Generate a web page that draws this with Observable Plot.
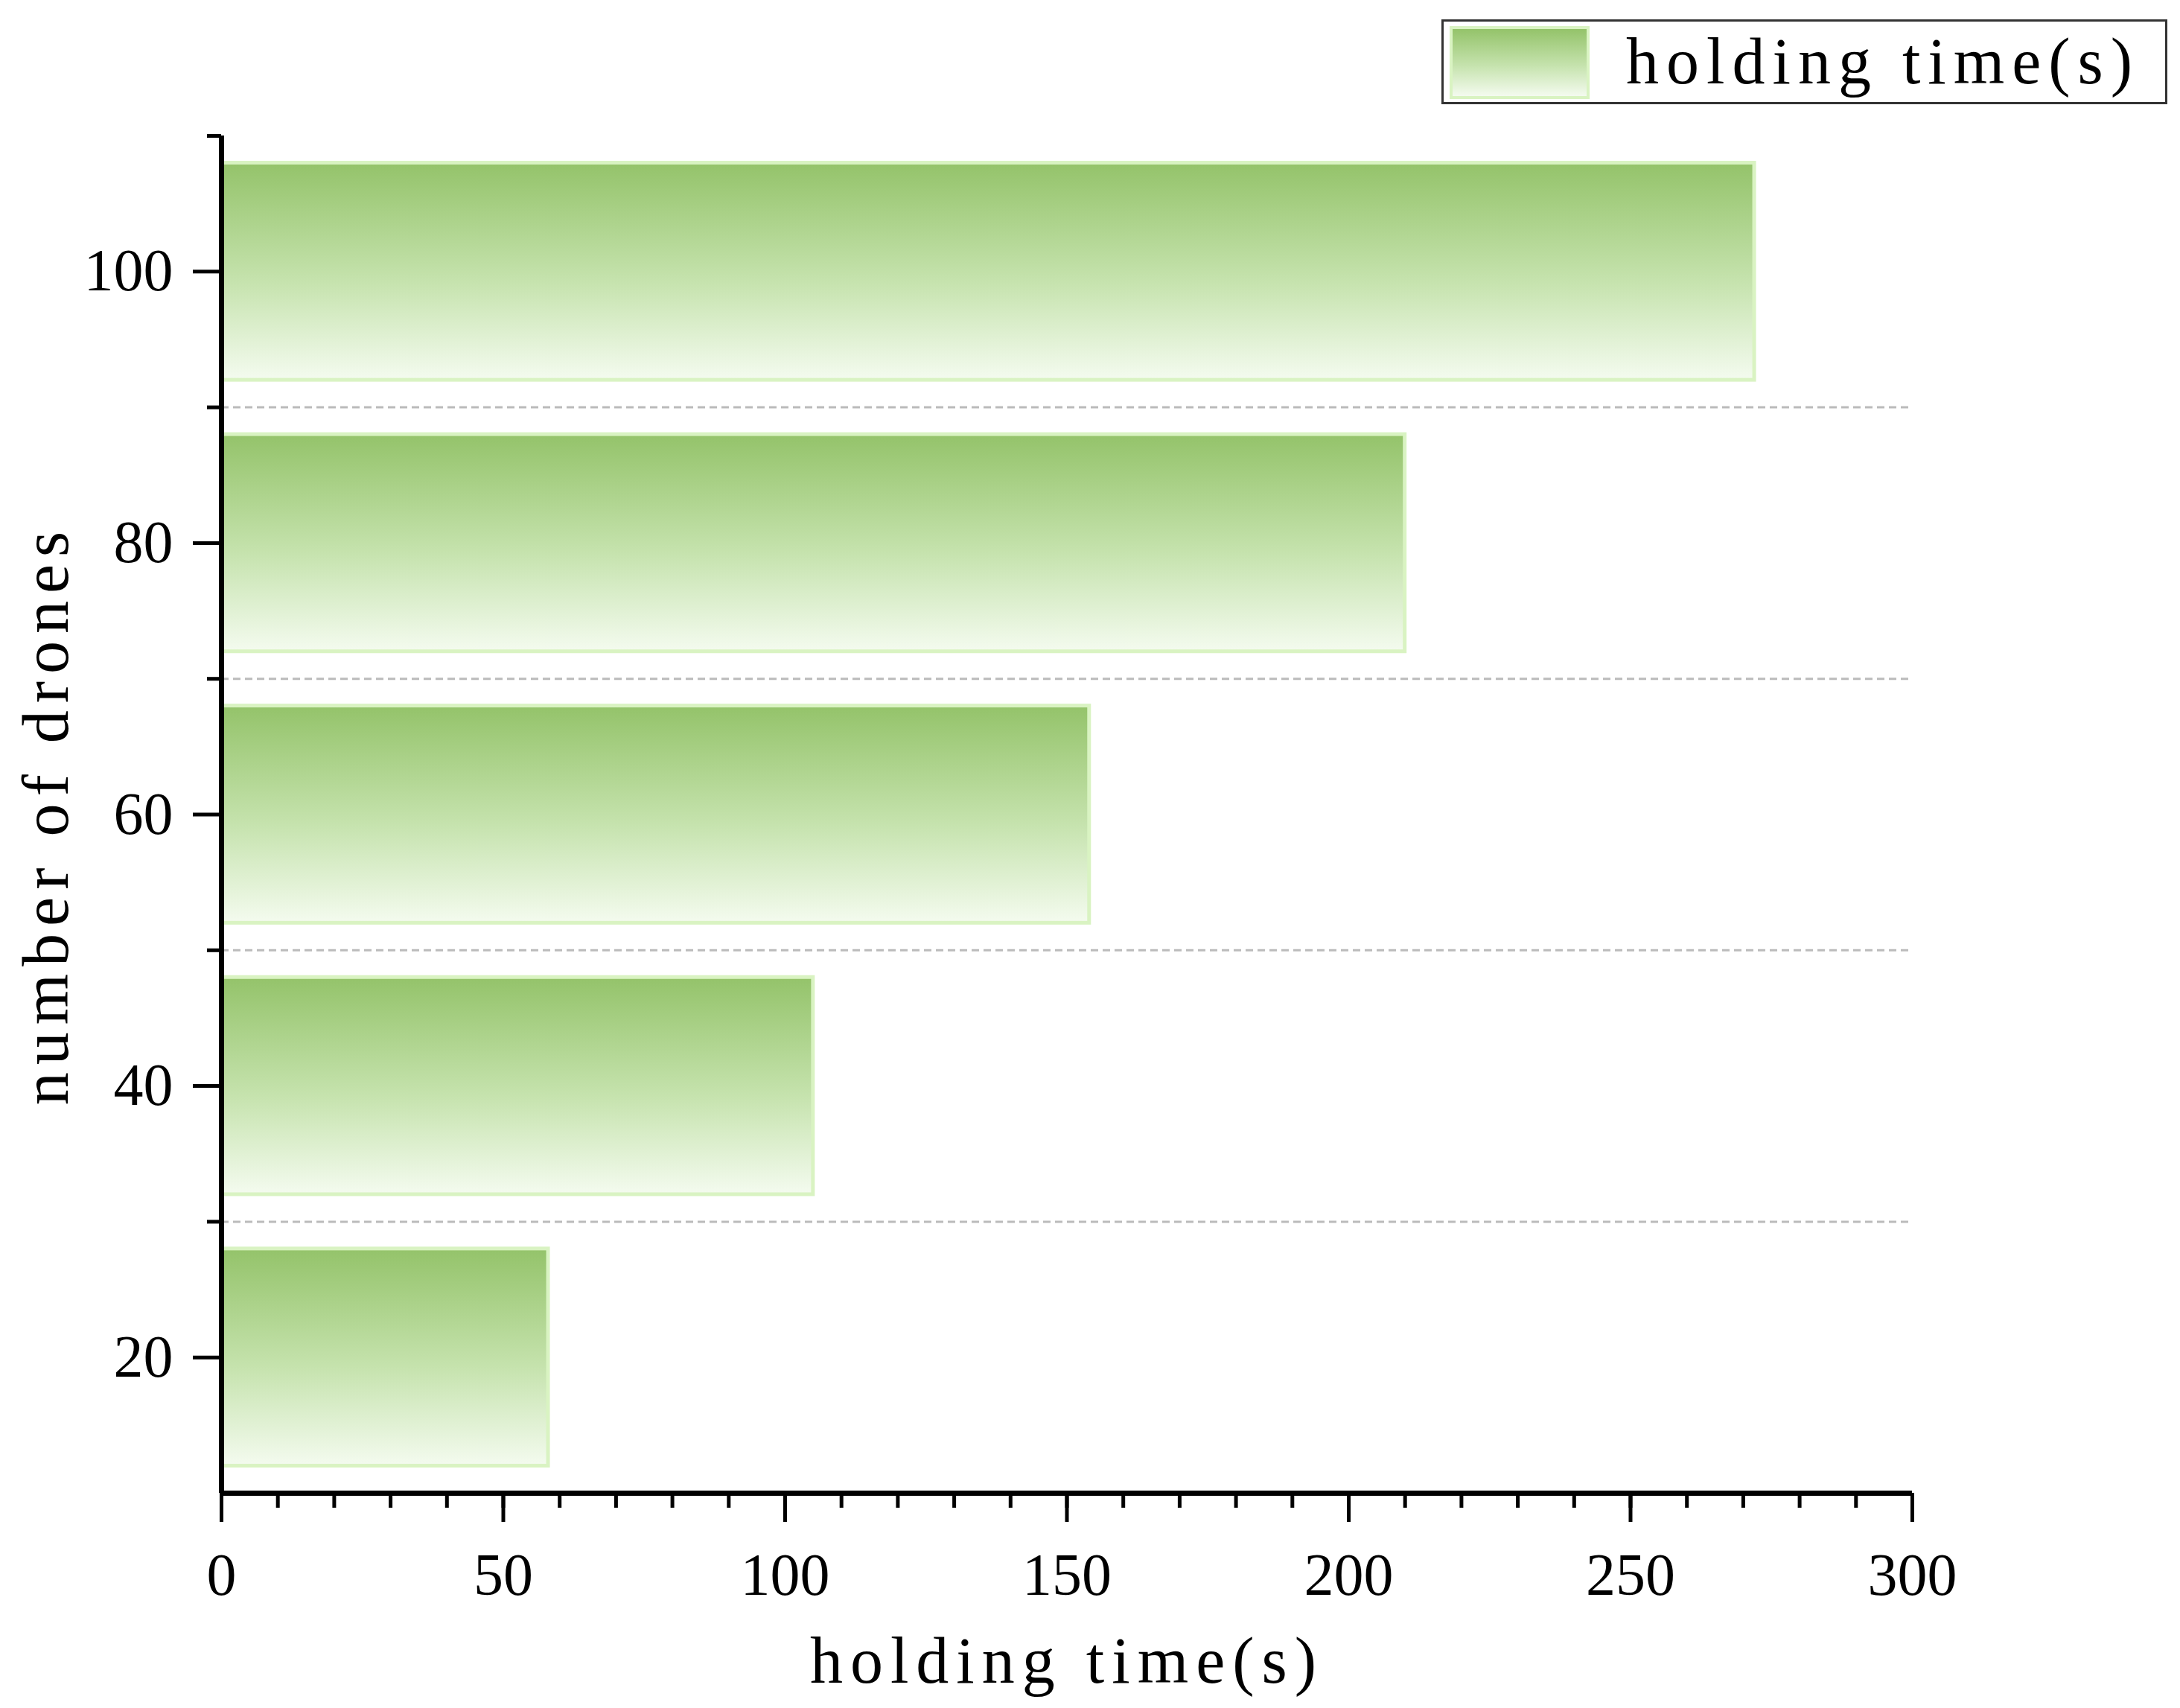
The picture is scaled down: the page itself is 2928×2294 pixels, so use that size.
<!DOCTYPE html>
<html>
<head>
<meta charset="utf-8">
<script src="https://cdn.jsdelivr.net/npm/d3@7"></script>
<script src="https://cdn.jsdelivr.net/npm/@observablehq/plot@0.6"></script>
<style>
  html, body { margin: 0; padding: 0; background: #fff; }
  #wrap { position: relative; width: 2928px; height: 2294px; }
  #legend {
    position: absolute; left: 1936px; top: 26px; width: 969px; height: 108px;
    border: 3px solid #333; background: #fff; box-sizing: content-box;
  }
  #legend .sw {
    position: absolute; left: 8px; top: 6px; width: 180px; height: 90px;
    border: 4px solid #d9f3c2;
    background: linear-gradient(to bottom, #94c36a, #c6e3ae 55%, #f4fbef);
  }
  #legend .lab {
    position: absolute; left: 245px; top: 0; height: 108px; line-height: 108px;
    font-family: "Liberation Serif", serif; font-size: 88px; letter-spacing: 10px; color: #000;
  }
</style>
</head>
<body>
<div id="wrap"><div id="legend"><div class="sw"></div><div class="lab">holding time(s)</div></div></div>
<script>
const drones = [20, 40, 60, 80, 100];
const holdingTime = [58, 105, 154, 210, 272];
const xMajorTicks = [0, 50, 100, 150, 200, 250, 300];
const yMajorTicks = [20, 40, 60, 80, 100];
const yMinorTicks = [30, 50, 70, 90, 110];
const gridLines = [30, 50, 70, 90];
const xLabel = "holding time(s)";
const yLabel = "number of drones";

const data = drones.map((n, i) => ({n, t: holdingTime[i]}));
const xMinorTicks = d3.range(0, 301, 10);

const svg = Plot.plot({
  width: 2928,
  height: 2294,
  marginLeft: 297,
  marginRight: 360,
  marginTop: 182,
  marginBottom: 289,
  style: {fontFamily: "Liberation Serif, serif", fontSize: "80px", color: "#000", background: "#fff"},
  x: {domain: [0, 300]},
  y: {domain: [10, 110]},
  marks: [
    Plot.ruleY(gridLines, {x1: 0, x2: 300, stroke: "#bbbbbb", strokeWidth: 3, strokeDasharray: "10,6"}),
    Plot.rectX(data, {
      x1: 0, x2: "t",
      y1: d => d.n - 8, y2: d => d.n + 8,
      fill: "url(#barGrad)", stroke: "#d9f3c2", strokeWidth: 5
    }),
    Plot.axisX({ticks: xMinorTicks, tickSize: 20, text: null, label: null, strokeWidth: 5}),
    Plot.axisX({ticks: xMajorTicks, tickSize: 39, tickPadding: 41, strokeWidth: 5, fontSize: 80, label: null}),
    Plot.axisY({ticks: yMinorTicks, tickSize: 19, text: null, label: null, strokeWidth: 5}),
    Plot.axisY({ticks: yMajorTicks, tickSize: 38, tickPadding: 27, strokeWidth: 5, fontSize: 80, label: null}),
    Plot.ruleX([0], {y1: 10, y2: 110, stroke: "#000", strokeWidth: 7}),
    Plot.ruleY([10], {x1: 0, x2: 300, stroke: "#000", strokeWidth: 7}),
    Plot.text([xLabel], {frameAnchor: "bottom", dy: 226, fontSize: 88, lineAnchor: "middle", textAnchor: "middle"}),
    Plot.text([yLabel], {frameAnchor: "left", dx: -235, rotate: -90, fontSize: 88, lineAnchor: "middle", textAnchor: "middle"})
  ]
});

const defs = d3.select(svg).insert("defs", ":first-child");
const g = defs.append("linearGradient").attr("id", "barGrad")
  .attr("x1", 0).attr("y1", 0).attr("x2", 0).attr("y2", 1);
g.append("stop").attr("offset", "0%").attr("stop-color", "#94c36a");
g.append("stop").attr("offset", "55%").attr("stop-color", "#c6e3ae");
g.append("stop").attr("offset", "100%").attr("stop-color", "#f4fbef");

d3.select(svg).selectAll("text").filter(function() {
  const t = this.textContent;
  return t === xLabel || t === yLabel;
}).style("letter-spacing", "10px");

document.getElementById("wrap").prepend(svg);
</script>
</body>
</html>
